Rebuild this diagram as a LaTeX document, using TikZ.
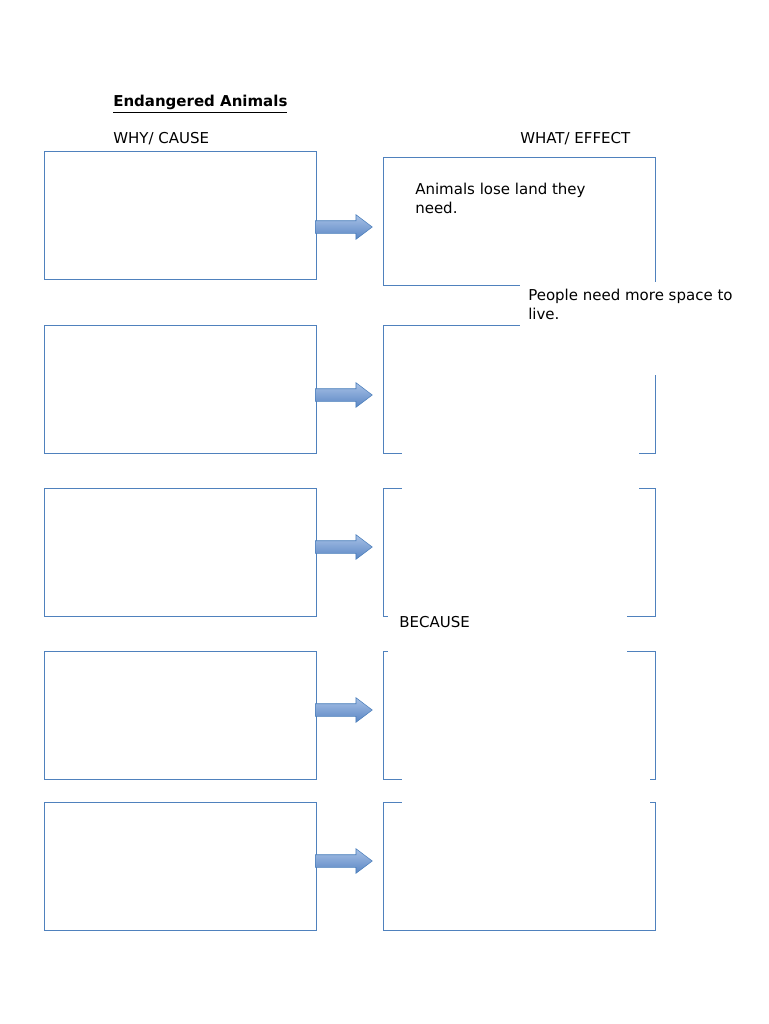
\documentclass[tikz,border=0pt]{standalone}
\usepackage{fontspec}
\setmainfont{DejaVu Sans}
\usetikzlibrary{shapes.arrows}
\definecolor{frame}{HTML}{4F81BD}
\definecolor{arrowTop}{HTML}{A8C1E6}
\definecolor{arrowBottom}{HTML}{5A86C4}
\definecolor{arrowEdge}{HTML}{4A7EBB}

\begin{document}
\begin{tikzpicture}[
    x=0.75pt, y=-0.75pt,
    every node/.style = {font=\fontsize{11.25}{13.9}\selectfont},
    panel/.style = {
      draw=frame,
      line width=0.75pt,
      minimum width=204pt,
      minimum height=96pt,
      inner sep=0pt,
      anchor=north west
    },
    cover/.style = {fill=white, inner sep=0pt, anchor=north west},
    plaintext/.style = {inner sep=0pt, anchor=base west, align=left},
    blockarrow/.style = {
      single arrow,
      draw=arrowEdge,
      line width=0.4pt,
      top color=arrowTop,
      bottom color=arrowBottom,
      minimum height=42.75pt,
      text height=4.5pt,
      text depth=4.5pt,
      single arrow head extend=4.5pt,
      single arrow tip angle=74,
      inner sep=0pt,
      anchor=west
    }
  ]
\useasboundingbox (0,0) rectangle (768,1024);

% cause and effect boxes
\foreach \i/\ctop/\etop in {1/151/157, 2/325/325, 3/488/488, 4/651/651, 5/802/802} {
  \node[panel] (cause\i) at (44,\ctop) {};
  \node[panel] (effect\i) at (383,\etop) {};
}

% white text boxes lying over the effect boxes
\node[cover, minimum width=186pt, minimum height=69.75pt] (cover1) at (520,282) {};
\node[cover, minimum width=177.75pt, minimum height=33.75pt] (cover2) at (402,448) {};
\node[cover, minimum width=179.25pt, minimum height=34.5pt] (cover3) at (388,610) {};
\node[cover, minimum width=186pt, minimum height=23.25pt] (cover4) at (402,776) {};

% texts (multi-line ones are placed by their last line)
\node[plaintext] (title) at (113,107) {\textbf{\underline{Endangered Animals}}};
\node[plaintext] (why) at (113,143) {WHY/ CAUSE};
\node[plaintext] (what) at (520,143) {WHAT/ EFFECT};
\node[plaintext] (effect1text) at (415,213) {Animals lose land they\\need.};
\node[plaintext] (people) at (528,319) {People need more space to\\live.};
\node[plaintext] (because) at (399,627) {BECAUSE};

% block arrows
\foreach \i/\ay in {1/227, 2/395, 3/547, 4/710, 5/861}
  \node[blockarrow] (arrow\i) at (315,\ay) {};
\end{tikzpicture}
\end{document}
